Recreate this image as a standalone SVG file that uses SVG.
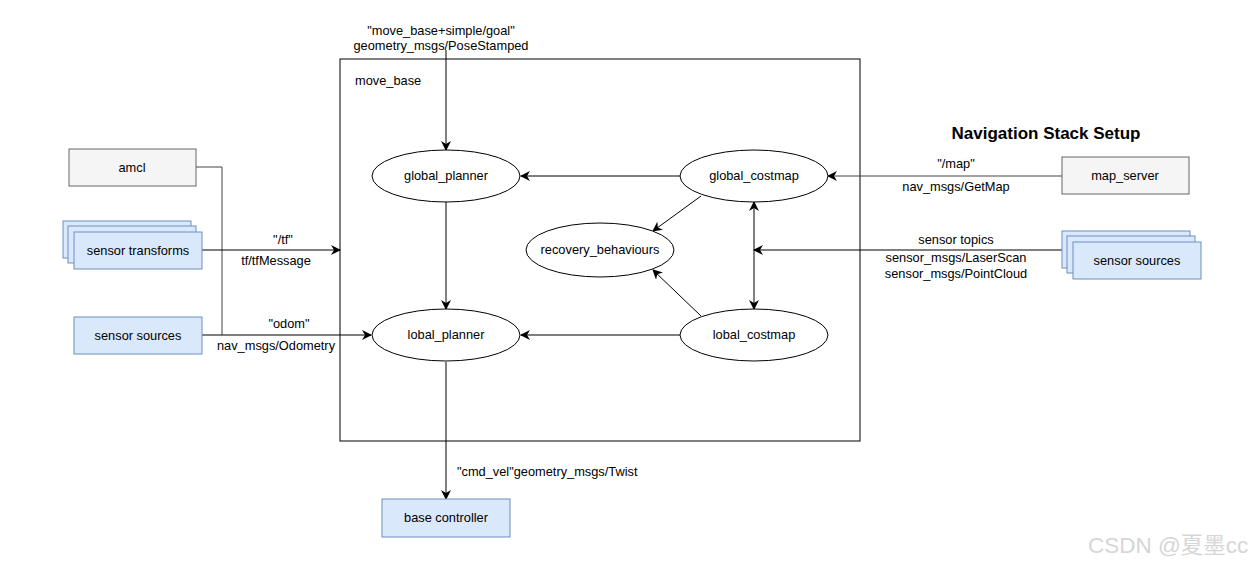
<svg xmlns="http://www.w3.org/2000/svg" width="1255" height="567" viewBox="0 0 1255 567">
<defs>
<marker id="arr" viewBox="0 0 10 10" refX="9" refY="5" markerWidth="10" markerHeight="10" markerUnits="userSpaceOnUse" orient="auto-start-reverse">
<path d="M0,0 L10,5 L0,10 L3,5 Z" fill="#000"/>
</marker>
<style>
text{font-family:"Liberation Sans",Arial,sans-serif;font-size:12.8px;fill:#000}
.c{text-anchor:middle}
.blue{fill:#dae8fc;stroke:#6c8ebf;stroke-width:1}
.gray{fill:#f5f5f5;stroke:#666666;stroke-width:1}
.ell{fill:#fff;stroke:#000;stroke-width:1}
.ln{fill:none;stroke:#000;stroke-width:1}
.gl{fill:none;stroke:#444;stroke-width:1}
</style>
</defs>
<rect width="1255" height="567" fill="#fff"/>

<g id="move_base">
<rect x="340" y="59" width="520" height="382" fill="none" stroke="#000"/>
<text x="355" y="85">move_base</text>
</g>

<text x="1046" y="139" class="c" style="font-size:17px;font-weight:bold">Navigation Stack Setup</text>

<g id="connectors">
<polyline class="gl" points="196,167 222,167 222,335"/>
<line class="ln" x1="202" y1="250" x2="340" y2="250" marker-end="url(#arr)"/>
<line class="ln" x1="202" y1="335" x2="371" y2="335" marker-end="url(#arr)"/>
<line class="ln" x1="446" y1="50" x2="446" y2="150" marker-end="url(#arr)"/>
<line class="ln" x1="680" y1="176" x2="521" y2="176" marker-end="url(#arr)"/>
<line class="ln" x1="446" y1="202" x2="446" y2="309" marker-end="url(#arr)"/>
<line class="ln" x1="701" y1="196" x2="653" y2="231" marker-end="url(#arr)"/>
<line class="ln" x1="701" y1="316" x2="653" y2="270" marker-end="url(#arr)"/>
<line class="ln" x1="680" y1="335" x2="521" y2="335" marker-end="url(#arr)"/>
<line class="ln" x1="754" y1="202" x2="754" y2="309" marker-start="url(#arr)" marker-end="url(#arr)"/>
<line class="gl" x1="1062" y1="176" x2="828" y2="176" marker-end="url(#arr)"/>
<line class="ln" x1="1062" y1="250" x2="754" y2="250" marker-end="url(#arr)"/>
<line class="ln" x1="446" y1="362" x2="446" y2="499" marker-end="url(#arr)"/>
<text x="441" y="35" class="c">"move_base+simple/goal"</text>
<text x="441" y="50" class="c">geometry_msgs/PoseStamped</text>
<text x="283" y="244" class="c">"/tf"</text>
<text x="276" y="265" class="c">tf/tfMessage</text>
<text x="289" y="328" class="c">"odom"</text>
<text x="276" y="350" class="c">nav_msgs/Odometry</text>
<text x="956" y="168" class="c">"/map"</text>
<text x="956" y="191" class="c">nav_msgs/GetMap</text>
<text x="956" y="244" class="c">sensor topics</text>
<text x="956" y="262" class="c">sensor_msgs/LaserScan</text>
<text x="956" y="278" class="c">sensor_msgs/PointCloud</text>
<text x="457" y="476">"cmd_vel"geometry_msgs/Twist</text>
</g>

<g id="amcl">
<rect class="gray" x="69" y="149" width="127" height="37"/>
<text x="132" y="172" class="c">amcl</text>
</g>

<g id="sensor_transforms">
<rect class="blue" x="63" y="221" width="128" height="37"/>
<rect class="blue" x="68" y="226" width="128" height="37"/>
<rect class="blue" x="74" y="232" width="128" height="37"/>
<text x="138" y="255" class="c">sensor transforms</text>
</g>

<g id="sensor_sources_left">
<rect class="blue" x="74" y="317" width="128" height="37"/>
<text x="138" y="340" class="c">sensor sources</text>
</g>

<g id="global_planner">
<ellipse class="ell" cx="446" cy="176" rx="74" ry="26"/>
<text x="446" y="180" class="c">global_planner</text>
</g>

<g id="global_costmap">
<ellipse class="ell" cx="754" cy="176" rx="74" ry="26"/>
<text x="754" y="180" class="c">global_costmap</text>
</g>

<g id="recovery_behaviours">
<ellipse class="ell" cx="600" cy="250" rx="74" ry="27"/>
<text x="600" y="254" class="c">recovery_behaviours</text>
</g>

<g id="lobal_planner">
<ellipse class="ell" cx="446" cy="335" rx="74" ry="26"/>
<text x="446" y="339" class="c">lobal_planner</text>
</g>

<g id="lobal_costmap">
<ellipse class="ell" cx="754" cy="335" rx="74" ry="26"/>
<text x="754" y="339" class="c">lobal_costmap</text>
</g>

<g id="map_server">
<rect class="gray" x="1062" y="157" width="127" height="37"/>
<text x="1125" y="180" class="c">map_server</text>
</g>

<g id="sensor_sources_right">
<rect class="blue" x="1062" y="231" width="128" height="37"/>
<rect class="blue" x="1067" y="236" width="128" height="37"/>
<rect class="blue" x="1073" y="242" width="128" height="37"/>
<text x="1137" y="265" class="c">sensor sources</text>
</g>

<g id="base_controller">
<rect class="blue" x="382" y="499" width="128" height="38"/>
<text x="446" y="522" class="c">base controller</text>
</g>

<text x="1088" y="553" style="font-family:'Liberation Sans','Noto Sans CJK SC',sans-serif;font-size:22.5px;fill:#d6d6d6">CSDN @夏墨cc</text>
</svg>
